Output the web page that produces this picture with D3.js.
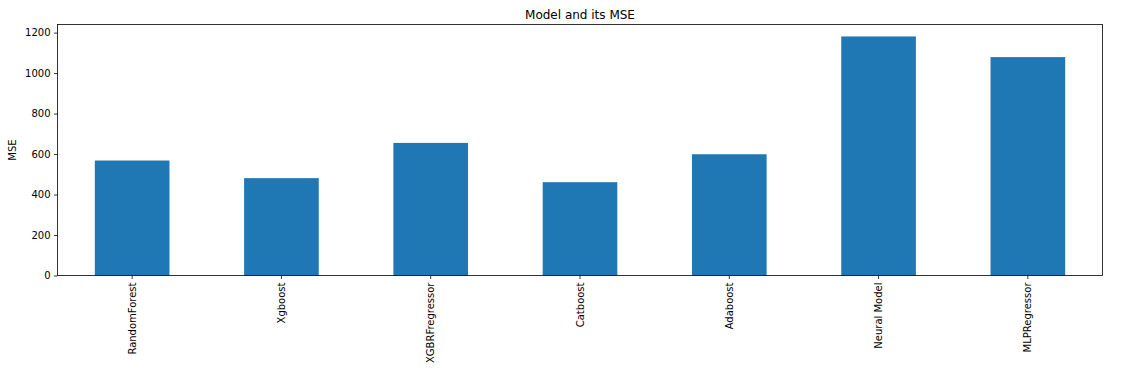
<!DOCTYPE html>
<html>
<head>
<meta charset="utf-8">
<script src="https://cdn.jsdelivr.net/npm/d3@7"></script>
<style>
  html, body { margin: 0; padding: 0; background: #fff; }
  svg { display: block; font-family: "DejaVu Sans", sans-serif; }
</style>
</head>
<body>
<svg id="chart" width="1123" height="374"></svg>
<script>
const categories = ["RandomForest", "Xgboost", "XGBRFregressor", "Catboost", "Adaboost", "Neural Model", "MLPRegressor"];
const mseValues = [568, 481, 655, 461, 599, 1181, 1079];
const yTicks = [0, 200, 400, 600, 800, 1000, 1200];
const titleText = "Model and its MSE";
const yLabel = "MSE";

const svg = d3.select("#chart");
const m = { left: 57.5, top: 24.5, right: 1102.5, bottom: 275.5 };

const x = d3.scaleBand().domain(categories).range([m.left, m.right]).paddingInner(0.5).paddingOuter(0.25);
const y = d3.scaleLinear().domain([0, d3.max(mseValues) * 1.05]).range([m.bottom, m.top]);

svg.selectAll("rect.bar").data(categories).enter().append("rect")
  .attr("class", "bar")
  .attr("x", d => x(d))
  .attr("width", x.bandwidth())
  .attr("y", (d, i) => y(mseValues[i]))
  .attr("height", (d, i) => y(0) - y(mseValues[i]))
  .attr("fill", "#1f77b4");

// frame
svg.append("rect")
  .attr("x", m.left).attr("y", m.top)
  .attr("width", m.right - m.left).attr("height", m.bottom - m.top)
  .attr("fill", "none").attr("stroke", "#000").attr("stroke-width", 0.8);

const yAxis = svg.append("g").attr("transform", `translate(${m.left},0)`)
  .call(d3.axisLeft(y).tickValues(yTicks).tickSize(3.5).tickPadding(3.5).tickFormat(d3.format("d")));
yAxis.select(".domain").remove();
yAxis.selectAll("text").attr("font-size", 10).attr("fill", "#000").attr("font-family", "DejaVu Sans");
yAxis.selectAll("line").attr("stroke", "#000").attr("stroke-width", 0.8);

const xAxis = svg.append("g").attr("transform", `translate(0,${m.bottom})`)
  .call(d3.axisBottom(x).tickSize(3.5).tickPadding(0));
xAxis.select(".domain").remove();
xAxis.selectAll("line").attr("stroke", "#000").attr("stroke-width", 0.8);
xAxis.selectAll("text")
  .attr("font-size", 10).attr("fill", "#000").attr("font-family", "DejaVu Sans")
  .attr("text-anchor", "end")
  .attr("dy", null)
  .attr("transform", "translate(0,7) rotate(-90)")
  .attr("x", 0).attr("y", 0)
  .attr("dominant-baseline", "central");

svg.append("text")
  .attr("x", (m.left + m.right) / 2).attr("y", m.top - 6)
  .attr("text-anchor", "middle").attr("font-size", 12).attr("fill", "#000")
  .text(titleText);

svg.append("text")
  .attr("transform", `translate(16,${(m.top + m.bottom) / 2}) rotate(-90)`)
  .attr("text-anchor", "middle").attr("font-size", 10).attr("fill", "#000")
  .text(yLabel);
</script>
</body>
</html>
